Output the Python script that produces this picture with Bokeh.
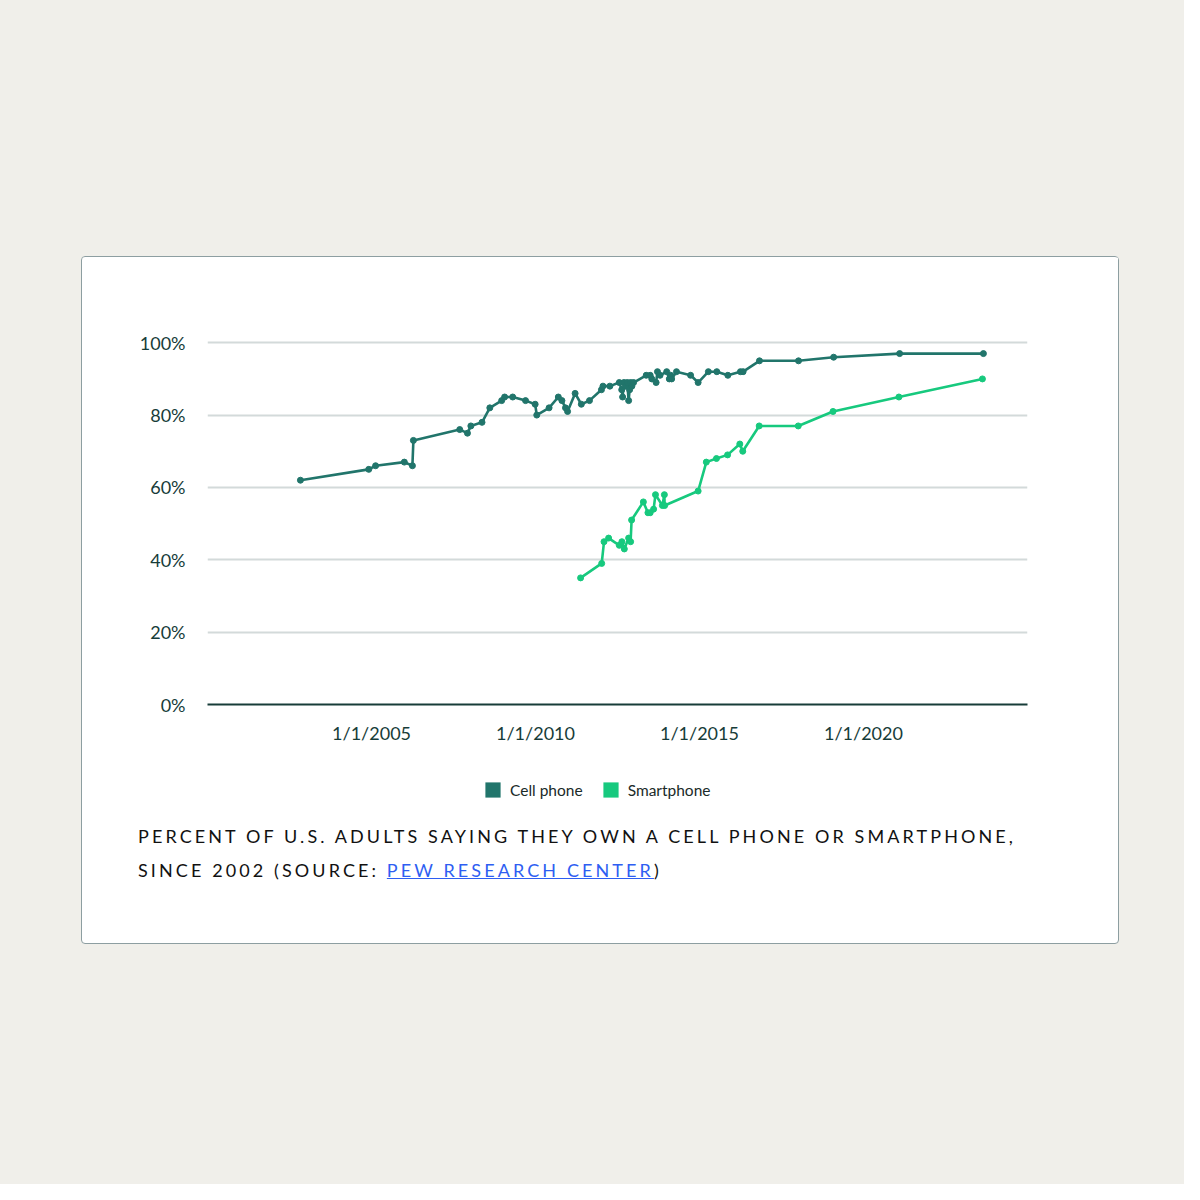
import pandas as pd
from bokeh.plotting import figure
from bokeh.models import (ColumnDataSource, FixedTicker, DatetimeTickFormatter,
                          PrintfTickFormatter, Legend, LegendItem, Div)
from bokeh.layouts import column
from bokeh.embed import file_html
from bokeh.resources import INLINE

# survey dates and shares
cell_dates = ["2002-11-01", "2004-12-01", "2005-02-15", "2006-01-01", "2006-04-01",
              "2006-04-12", "2007-09-10", "2007-12-05", "2008-01-12", "2008-05-15",
              "2008-08-10", "2008-12-20", "2009-01-22", "2009-04-22", "2009-09-12",
              "2009-12-28", "2010-01-15", "2010-06-01", "2010-09-12", "2010-10-22",
              "2010-12-01", "2010-12-24", "2011-03-18", "2011-05-26", "2011-08-25",
              "2012-01-05", "2012-01-22", "2012-04-08", "2012-07-22", "2012-08-18",
              "2012-08-28", "2012-09-12", "2012-10-01", "2012-10-19", "2012-11-03",
              "2012-11-14", "2012-11-25", "2012-12-09", "2012-12-28", "2013-05-18",
              "2013-07-01", "2013-07-19", "2013-09-05", "2013-09-20", "2013-10-19",
              "2014-01-01", "2014-01-30", "2014-02-14", "2014-02-25", "2014-04-20",
              "2014-09-24", "2014-12-17", "2015-04-10", "2015-07-13", "2015-11-13",
              "2016-04-01", "2016-05-01", "2016-10-30", "2018-01-08", "2019-02-03",
              "2021-02-07", "2023-08-29"]
cell_pct = [62, 65, 66, 67, 66,
            73, 76, 75, 77, 78,
            82, 84, 85, 85, 84,
            83, 80, 82, 85, 84,
            82, 81, 86, 83, 84,
            87, 88, 88, 89, 87,
            85, 89, 88, 89, 84,
            87, 89, 88, 89, 91,
            91, 90, 89, 92, 91,
            92, 90, 91, 90, 92,
            91, 89, 92, 92, 91,
            92, 92, 95, 95, 96,
            97, 97]

smart_dates = ["2011-05-18", "2012-01-08", "2012-02-03", "2012-03-25", "2012-07-22",
               "2012-08-20", "2012-09-16", "2012-11-03", "2012-11-25", "2012-12-06",
               "2013-04-16", "2013-06-06", "2013-07-01", "2013-08-08", "2013-08-29",
               "2013-11-14", "2013-12-06", "2013-12-09", "2014-12-17", "2015-03-18",
               "2015-07-09", "2015-11-10", "2016-03-25", "2016-04-27", "2016-10-27",
               "2018-01-05", "2019-01-27", "2021-01-30", "2023-08-18"]
smart_pct = [35, 39, 45, 46, 44,
             45, 43, 46, 45, 51,
             56, 53, 53, 54, 58,
             55, 58, 55, 59, 67,
             68, 69, 72, 70, 77,
             77, 81, 85, 90]

series_names = ["Cell phone", "Smartphone"]
tick_years = ["2005-01-01", "2010-01-01", "2015-01-01", "2020-01-01"]
y_ticks = [0, 20, 40, 60, 80, 100]

CELL = "#21756b"
SMART = "#17c97e"
INK = "#173c39"
FONT = "Lato"

cell_src = ColumnDataSource(data=dict(date=pd.to_datetime(cell_dates), pct=cell_pct))
smart_src = ColumnDataSource(data=dict(date=pd.to_datetime(smart_dates), pct=smart_pct))

p = figure(width=1036, height=503, x_axis_type="datetime",
           x_range=(pd.Timestamp("2000-01-01"), pd.Timestamp("2025-01-01")),
           y_range=(0, 102), output_backend="svg", toolbar_location=None,
           min_border_left=125, min_border_right=91, min_border_top=78,
           min_border_bottom=56)
p.outline_line_color = None
p.background_fill_color = "white"
p.border_fill_color = "white"

p.line("date", "pct", source=cell_src, line_color=CELL, line_width=2.6)
p.scatter("date", "pct", source=cell_src, size=6, fill_color=CELL, line_color=CELL)
p.line("date", "pct", source=smart_src, line_color=SMART, line_width=2.6)
p.scatter("date", "pct", source=smart_src, size=6, fill_color=SMART, line_color=SMART)

p.xaxis.ticker = FixedTicker(ticks=[pd.Timestamp(d).value / 1e6 for d in tick_years])
fmt = "%-m/%-d/%Y"
p.xaxis.formatter = DatetimeTickFormatter(years=fmt, months=fmt, days=fmt,
                                          hours=fmt, minutes=fmt, seconds=fmt)
p.xaxis.axis_line_color = INK
p.xaxis.axis_line_width = 2
p.xaxis.major_tick_line_color = None
p.xaxis.minor_tick_line_color = None
p.xaxis.major_label_standoff = 11
p.xaxis.major_label_text_font = FONT
p.xaxis.major_label_text_font_size = "18px"
p.xaxis.major_label_text_color = INK

p.yaxis.ticker = FixedTicker(ticks=y_ticks)
p.yaxis.formatter = PrintfTickFormatter(format="%d%%")
p.yaxis.axis_line_color = None
p.yaxis.major_tick_line_color = None
p.yaxis.minor_tick_line_color = None
p.yaxis.major_label_standoff = 16
p.yaxis.major_label_text_font = FONT
p.yaxis.major_label_text_font_size = "18px"
p.yaxis.major_label_text_color = INK

p.xgrid.grid_line_color = None
p.ygrid.grid_line_color = "#d3dada"
p.ygrid.grid_line_width = 2

# legend strip under the chart, with square swatches (swatch glyphs hold no visible position)
lg = figure(width=1036, height=59, output_backend="svg", toolbar_location=None,
            x_axis_location=None, y_axis_location=None, min_border=0)
lg.outline_line_color = None
lg.grid.grid_line_color = None
lg.border_fill_color = "white"
nan = float("nan")
sw_src = ColumnDataSource(data=dict(name=series_names, color=[CELL, SMART],
                                    left=[nan, nan], right=[nan, nan],
                                    top=[nan, nan], bottom=[nan, nan]))
sw = lg.quad(left="left", right="right", top="top", bottom="bottom", source=sw_src,
             fill_color="color", line_color=None)
legend = Legend(items=[LegendItem(label=series_names[0], renderers=[sw], index=0),
                       LegendItem(label=series_names[1], renderers=[sw], index=1)],
                orientation="horizontal", location=(276, 20),
                glyph_width=19, glyph_height=19, label_standoff=8, spacing=18,
                padding=0, margin=0, border_line_color=None,
                background_fill_alpha=0,
                label_text_font=FONT, label_text_font_size="15.5px",
                label_text_color="#1a2a28")
lg.add_layout(legend, "center")

caption = Div(
    text=('PERCENT OF U.S. ADULTS SAYING THEY OWN A CELL PHONE OR SMARTPHONE,<br>'
          'SINCE 2002 (SOURCE: <a href="https://www.pewresearch.org/internet/fact-sheet/mobile/" '
          'style="color:#2e5ef2;text-decoration:underline;">PEW RESEARCH CENTER</a>)'),
    width=960, height=90, margin=(0, 0, 0, 56),
    styles={"font-family": FONT, "font-size": "18px", "letter-spacing": "3.1px",
            "line-height": "34px", "color": "#111111", "white-space": "nowrap"})

card = column(p, lg, caption, width=1038, height=688, margin=(256, 0, 0, 81),
              styles={"background-color": "white", "border": "1px solid #8d9ea1",
                      "border-radius": "4px"})

page = column(card, width=1184, height=1184,
              styles={"background-color": "#f0efea"})

open("out.html", "w").write(file_html(page, INLINE))
